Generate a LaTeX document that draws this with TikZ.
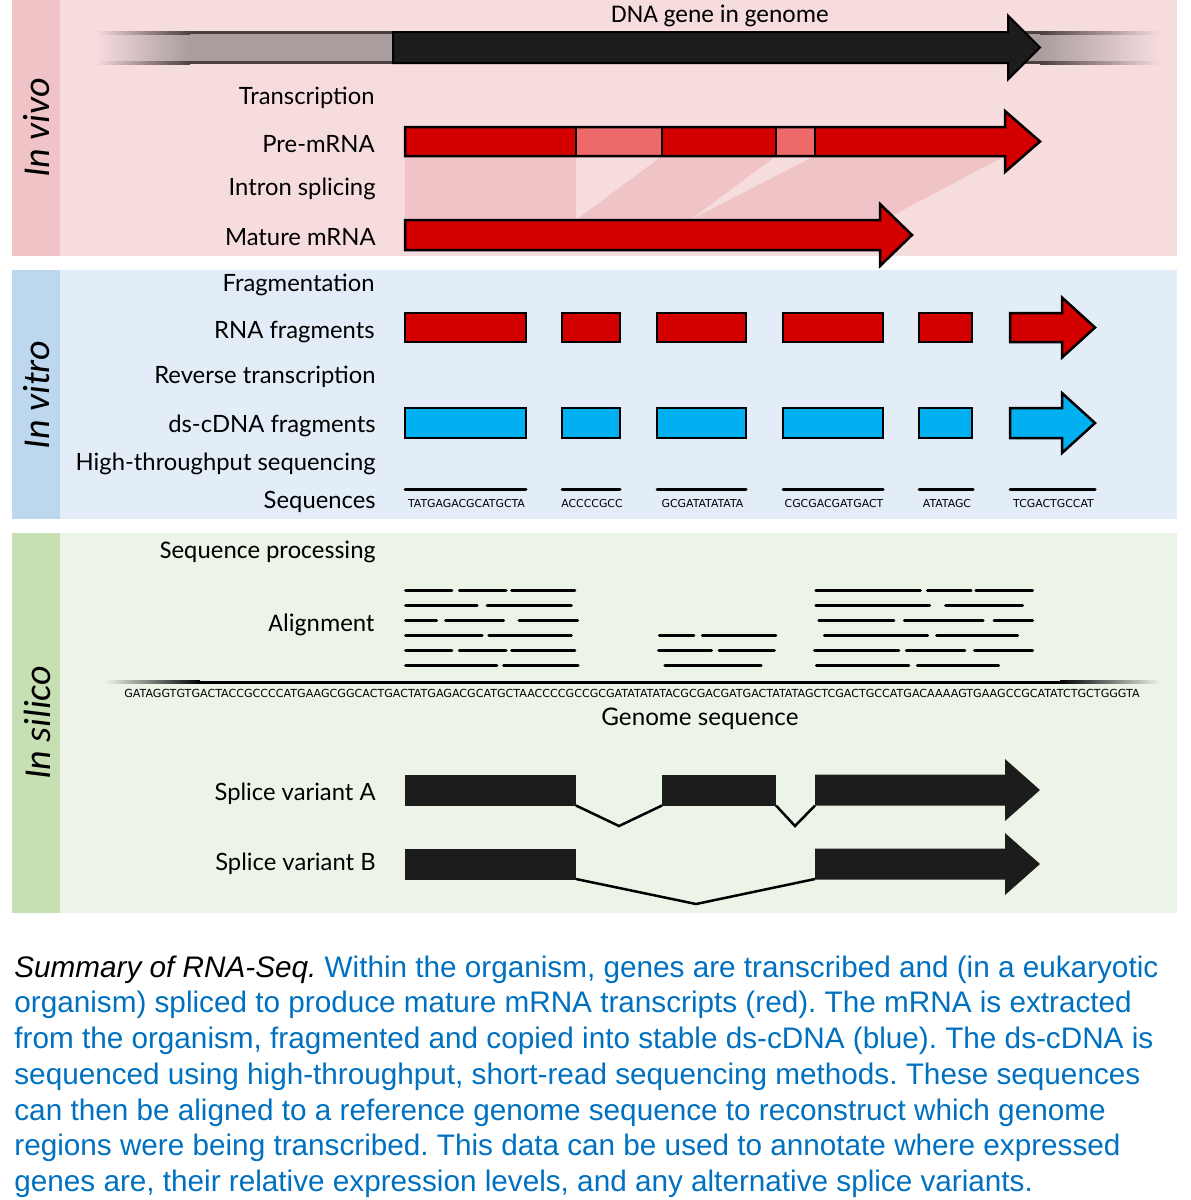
\documentclass[tikz,border=0pt]{standalone}
\usepackage{fontspec}
\setmainfont{Lato}
\newfontfamily\carlfont{Carlito}
\newfontfamily\seqfont{DejaVu Sans}
\newfontfamily\capfont{Liberation Sans}
\definecolor{vivobg}{HTML}{F7DCDE}
\definecolor{vivostripe}{HTML}{F0C3C7}
\definecolor{vitrobg}{HTML}{E3EDF8}
\definecolor{vitrostripe}{HTML}{BDD7EE}
\definecolor{silicobg}{HTML}{ECF4E8}
\definecolor{silicostripe}{HTML}{C6E0B4}
\definecolor{rna}{HTML}{D40000}
\definecolor{intron}{HTML}{EE6A6A}
\definecolor{mapc}{HTML}{F0C4C6}
\definecolor{cdna}{HTML}{00B0F0}
\definecolor{dnagray}{HTML}{A99D9E}
\definecolor{dnaedge}{HTML}{4A4040}
\definecolor{dnablack}{HTML}{1C1C1C}
\definecolor{capblue}{HTML}{0070C0}
\newcommand{\harrow}[7]{\path[#1] (#2,#5-#6) -- (#3,#5-#6) -- (#3,#5-#7) -- (#4,#5) -- (#3,#5+#7) -- (#3,#5+#6) -- (#2,#5+#6) -- cycle;}
\tikzset{
  lab/.style={anchor=east, inner sep=0pt, font=\fontsize{11.9}{14}\selectfont},
  clab/.style={anchor=east, inner sep=0pt, font=\carlfont\fontsize{12.7}{14}\selectfont},
  side/.style={rotate=90, inner sep=0pt, font=\carlfont\itshape\fontsize{19}{22}\selectfont},
  outl/.style={draw=black, line width=1.25pt, line join=miter},
  rnabox/.style={fill=rna, outl},
  cdnabox/.style={fill=cdna, outl},
  seqline/.style={line width=1.5pt, line cap=round},
  seqtxt/.style={anchor=base, inner sep=0pt, font=\seqfont\fontsize{5.45}{6}\selectfont},
  exon/.style={fill=dnablack},
  splice/.style={line width=1.25pt, line join=miter},
  capline/.style={anchor=base west, inner sep=0pt, text=capblue, font=\capfont\fontsize{14.85}{18}\selectfont\frenchspacing}
}
\begin{document}
\begin{tikzpicture}[x=0.5pt,y=-0.5pt]
\useasboundingbox (0,0) rectangle (1190,1200);
% ---------- panels
\fill[vivobg] (12,0) rectangle (1177,256);
\fill[vivostripe] (12,0) rectangle (60,256);
\fill[vitrobg] (12,270) rectangle (1177,519);
\fill[vitrostripe] (12,270) rectangle (60,519);
\fill[silicobg] (12,533) rectangle (1177,913);
\fill[silicostripe] (12,533) rectangle (60,913);
\node[side] (svivo) at (37,128) {In vivo};
\node[side] (svitro) at (37,395) {In vitro};
\node[side] (ssilico) at (37,723) {In silico};
% ---------- in vivo
\node[inner sep=0pt, font=\carlfont\fontsize{12.7}{14}\selectfont] (dnalab) at (720,15.5) {DNA gene in genome};
\fill[dnagray] (190,32) rectangle (1040,63);
\shade[left color=vivobg, right color=dnagray] (95,32) rectangle (190,63);
\shade[left color=dnagray, right color=vivobg] (1040,32) rectangle (1160,63);
\fill[dnaedge] (190,31) rectangle (1040,34);
\fill[dnaedge] (190,61) rectangle (1040,64);
\shade[left color=vivobg, right color=dnaedge] (95,31) rectangle (190,34);
\shade[left color=vivobg, right color=dnaedge] (95,61) rectangle (190,64);
\shade[left color=dnaedge, right color=vivobg] (1040,31) rectangle (1160,34);
\shade[left color=dnaedge, right color=vivobg] (1040,61) rectangle (1160,64);
\harrow{fill=dnablack, draw=black, line width=1pt}{393}{1008}{1040}{47.5}{15.5}{32}
\node[lab] (ltrans) at (375,97.5) {Transcription};
\node[lab] (lpre) at (375,144.5) {Pre-mRNA};
\node[lab] (lintron) at (376,189) {Intron splicing};
\node[lab] (lmature) at (376,237.5) {Mature mRNA};
% mapping between pre-mRNA and mature mRNA
\fill[mapc] (405,156) -- (576,156) -- (576,220) -- (405,220) -- cycle;
\fill[mapc] (662,156) -- (776,156) -- (690,220) -- (576,220) -- cycle;
\fill[mapc] (815,156) -- (1005,156) -- (884,220) -- (690,220) -- cycle;
% pre-mRNA
\harrow{fill=rna}{405}{1005}{1040}{141.5}{14.5}{30.5}
\fill[intron] (576,127) rectangle (662,156);
\fill[intron] (776,127) rectangle (815,156);
\harrow{outl}{405}{1005}{1040}{141.5}{14.5}{30.5}
\draw[line width=1.25pt] (576,127) -- (576,156) (662,127) -- (662,156) (776,127) -- (776,156) (815,127) -- (815,156);
% mature mRNA
\harrow{rnabox}{405}{880}{912}{235}{15}{31}
% ---------- in vitro
\node[lab] (lfrag) at (375,285) {Fragmentation};
\node[lab] (lrnaf) at (375,332) {RNA fragments};
\node[lab] (lrt) at (376,377) {Reverse transcription};
\node[lab] (lcdna) at (376,426) {ds-cDNA fragments};
\node[lab] (lhts) at (376,464) {High-throughput sequencing};
\node[lab] (lseqs) at (376,502) {Sequences};
\foreach \a/\b in {405/526,562/620,657/746,783/883,919/972}{
  \path[rnabox] (\a,313) rectangle (\b,342);
  \path[cdnabox] (\a,408) rectangle (\b,438);
}
\harrow{rnabox}{1010}{1062}{1095}{327.5}{14.5}{30}
\harrow{cdnabox}{1010}{1062}{1095}{423}{15}{30}
\foreach \a/\b/\s/\n in {405/526/TATGAGACGCATGCTA/s1,562/620/ACCCCGCC/s2,657/746/GCGATATATATA/s3,783/883/CGCGACGATGACT/s4,919/973/ATATAGC/s5,1010/1095/TCGACTGCCAT/s6}{
  \draw[seqline] (\a,489) -- (\b,489);
  \node[seqtxt] (\n) at ({(\a+\b)/2+1},507) {\s};
}
% ---------- in silico
\node[clab] (lsp) at (376,552) {Sequence processing};
\node[clab] (lal) at (375,625) {Alignment};
\foreach \y/\segs in {
 590/{405.6/451.9,459.4/506.2,511.6/574.8,815.9/920.3,927.4/971.2,975.8/1032.7},
 605.3/{405.6/477.1,487.2/571.4,815.9/929.6,945.6/1022.6},
 620.3/{405.6/436.7,445.6/503.6,519.2/577.7,818.9/893.8,904.3/983.0,994.0/1032.7},
 635.7/{405.6/482.2,488.9/571.4,659.4/693.9,702.3/775.9,824.3/927.5,936.7/1017.5},
 650.7/{405.6/451.9,459.4/506.2,511.6/574.8,658.5/711.5,719.1/774.3,814.7/898.8,906.4/964.9,974.6/1032.7},
 665.7/{405.6/496.9,503.6/578.1,664.8/761.2,816.4/908.9,917.4/998.6}}{
  \foreach \a/\b in \segs { \draw[seqline] (\a,\y) -- (\b,\y); }
}
% genome line
\fill[black] (199,680.5) rectangle (1061,683.5);
\shade[left color=silicobg, right color=black] (105,680.5) rectangle (200,683.5);
\shade[left color=black, right color=silicobg] (1060,680.5) rectangle (1160,683.5);
\node[seqtxt, font=\seqfont\fontsize{5.55}{6}\selectfont] (genseq) at (632,697) {GATAGGTGTGACTACCGCCCCATGAAGCGGCACTGACTATGAGACGCATGCTAACCCCGCCGCGATATATATACGCGACGATGACTATATAGCTCGACTGCCATGACAAAAGTGAAGCCGCATATCTGCTGGGTA};
\node[inner sep=0pt, font=\fontsize{12.1}{14}\selectfont] (lgen) at (700,719) {Genome sequence};
% splice variants
\node[lab] (lsa) at (376,794) {Splice variant A};
\node[lab] (lsb) at (376,864) {Splice variant B};
\coordinate (a1) at (576,805.5);
\coordinate (a1v) at (619,826);
\coordinate (a2) at (662,805.5);
\coordinate (a3) at (776,805.5);
\coordinate (a3v) at (795,826);
\coordinate (a4) at (815,805.5);
\coordinate (b1) at (576,879);
\coordinate (bv) at (696,904);
\coordinate (b2) at (815,879);
\draw[splice] (a1) -- (a1v) -- (a2);
\draw[splice] (a3) -- (a3v) -- (a4);
\draw[splice] (b1) -- (bv) -- (b2);
\fill[exon] (405,774.5) rectangle (576,805.5);
\fill[exon] (662,774.5) rectangle (776,805.5);
\harrow{exon}{815}{1005}{1040}{790}{15.5}{31}
\fill[exon] (405,848.5) rectangle (576,879.5);
\harrow{exon}{815}{1005}{1040}{864}{15.5}{31}
% ---------- caption
\node[capline] (c1) at (14,977) {\textcolor{black}{\itshape Summary of RNA-Seq.} Within the organism, genes are transcribed and (in a eukaryotic};
\node[capline] (c2) at (14,1012.5) {organism) spliced to produce mature mRNA transcripts (red). The mRNA is extracted};
\node[capline] (c3) at (14,1048.5) {from the organism, fragmented and copied into stable ds-cDNA (blue). The ds-cDNA is};
\node[capline] (c4) at (14,1084) {sequenced using high-throughput, short-read sequencing methods. These sequences};
\node[capline] (c5) at (14,1120) {can then be aligned to a reference genome sequence to reconstruct which genome};
\node[capline] (c6) at (14,1155.5) {regions were being transcribed. This data can be used to annotate where expressed};
\node[capline] (c7) at (14,1191) {genes are, their relative expression levels, and any alternative splice variants.};
\end{tikzpicture}
\end{document}
